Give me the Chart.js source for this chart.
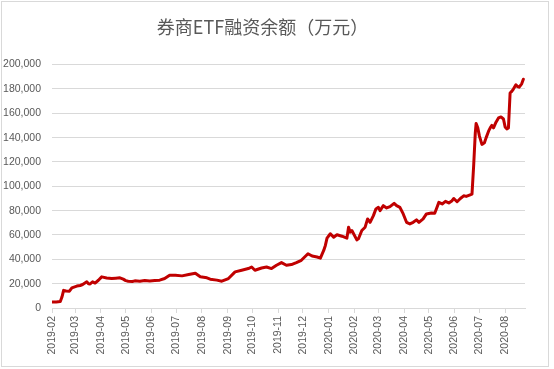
<!DOCTYPE html>
<html>
<head>
<meta charset="utf-8">
<script src="https://cdn.jsdelivr.net/npm/chart.js@4"></script>
<style>
  html, body { margin: 0; padding: 0; background: #ffffff; }
  #wrap { width: 554px; height: 369px; position: relative; }
</style>
</head>
<body>
<div id="wrap"><canvas id="c" width="554" height="369"></canvas></div>
<script>
const chartTitle = '券商ETF融资余额（万元）';

const monthLabels = ['2019-02','2019-03','2019-04','2019-05','2019-06','2019-07','2019-08','2019-09','2019-10','2019-11','2019-12','2020-01','2020-02','2020-03','2020-04','2020-05','2020-06','2020-07','2020-08'];

const dates = [
'2019-02-01','2019-02-06','2019-02-11','2019-02-13','2019-02-15','2019-02-18','2019-02-22','2019-02-25',
'2019-03-03','2019-03-07','2019-03-10','2019-03-15','2019-03-17','2019-03-19','2019-03-22','2019-03-25','2019-03-29',
'2019-04-02','2019-04-08','2019-04-14','2019-04-19','2019-04-24','2019-04-28',
'2019-05-01','2019-05-04','2019-05-09','2019-05-12','2019-05-18','2019-05-24','2019-05-30',
'2019-06-05','2019-06-11','2019-06-17','2019-06-23','2019-06-30',
'2019-07-08','2019-07-16','2019-07-24','2019-07-30',
'2019-08-07','2019-08-11','2019-08-19','2019-08-25',
'2019-09-02','2019-09-10','2019-09-18','2019-09-26','2019-09-30',
'2019-10-04','2019-10-12','2019-10-18','2019-10-24','2019-10-30',
'2019-11-05','2019-11-11','2019-11-17','2019-11-23','2019-11-29',
'2019-12-03','2019-12-07','2019-12-12','2019-12-18','2019-12-22','2019-12-26','2019-12-28','2019-12-30',
'2020-01-03','2020-01-07','2020-01-11','2020-01-17','2020-01-23','2020-01-25','2020-01-27','2020-01-29',
'2020-02-04','2020-02-06','2020-02-10','2020-02-14','2020-02-17','2020-02-20','2020-02-24','2020-02-27',
'2020-03-01','2020-03-03','2020-03-07','2020-03-11','2020-03-15','2020-03-20','2020-03-23','2020-03-27','2020-03-31',
'2020-04-04','2020-04-08','2020-04-12','2020-04-16','2020-04-19','2020-04-24','2020-04-28',
'2020-05-04','2020-05-08','2020-05-10','2020-05-13','2020-05-17','2020-05-21','2020-05-25','2020-05-29','2020-05-31',
'2020-06-04','2020-06-08','2020-06-12','2020-06-15','2020-06-19','2020-06-22','2020-06-24','2020-06-26','2020-06-27','2020-06-29',
'2020-07-01','2020-07-04','2020-07-07','2020-07-09','2020-07-12','2020-07-14','2020-07-16','2020-07-18','2020-07-21','2020-07-24','2020-07-27','2020-07-30',
'2020-08-01','2020-08-03','2020-08-05','2020-08-07','2020-08-09','2020-08-11','2020-08-14','2020-08-16','2020-08-18','2020-08-21','2020-08-23'
];

const balances = [
5000,5000,5300,9000,14500,14000,13800,16600,
18000,18500,19300,21500,20000,19800,21500,20500,22800,
25600,24700,24200,24500,24800,23700,
22500,22000,21800,22300,22000,22600,22200,
22600,22900,24200,26900,27000,
26400,27500,28500,25600,
24800,23700,22900,22000,
24200,29700,31000,32400,33700,
31000,32900,33700,32400,35100,
37300,35100,35700,37300,39200,
41900,44600,42700,41900,41000,47300,51400,57400,
61000,58200,60200,59000,57400,66400,62300,63700,
56000,56900,63700,66400,73200,70400,75900,81400,
82700,80000,84100,82200,83300,86000,84100,82700,77300,
70400,69100,70400,72400,70400,73200,77300,
78100,77800,81400,86800,85500,87600,86300,88200,90000,
87300,90000,92200,91700,92800,93600,116700,143900,151600,148000,
141200,134400,135800,139800,145300,148000,150000,148000,152700,156200,157000,155300,
148800,147200,148000,176600,178000,179900,183400,182000,181500,184200,188000
];

const yTicks = [0,20000,40000,60000,80000,100000,120000,140000,160000,180000,200000];

const DAY = 86400000;
const origin = Date.UTC(2019, 1, 1);
function dayOffset(s) {
  const p = s.split('-').map(Number);
  return Math.round((Date.UTC(p[0], p[1] - 1, p[2] || 1) - origin) / DAY);
}
const points = dates.map((d, i) => ({ x: dayOffset(d), y: balances[i] }));
const monthTickValues = monthLabels.map(m => dayOffset(m + '-01'));
const axisEnd = dayOffset('2020-08-25');

const borderPlugin = {
  id: 'chartBorder',
  afterDraw(chart) {
    const ctx = chart.ctx;
    ctx.save();
    ctx.strokeStyle = '#d9d9d9';
    ctx.lineWidth = 1;
    ctx.strokeRect(1.5, 1.5, 547, 365);
    ctx.restore();
  }
};

const labelFont = { family: '"Liberation Sans", Arial, sans-serif', size: 10.5 };

new Chart(document.getElementById('c'), {
  type: 'line',
  data: {
    datasets: [{
      data: points,
      borderColor: '#c00000',
      borderWidth: 3,
      pointRadius: 0,
      tension: 0,
      fill: false,
      borderJoinStyle: 'round',
      borderCapStyle: 'round'
    }]
  },
  options: {
    responsive: false,
    animation: false,
    devicePixelRatio: 1,
    layout: { padding: { left: 0, right: 29, top: 0, bottom: 0 } },
    plugins: {
      legend: { display: false },
      tooltip: { enabled: false },
      title: {
        display: true,
        text: chartTitle,
        color: '#595959',
        font: { family: '"Noto Sans CJK SC", sans-serif', size: 18, weight: 'normal' },
        padding: { top: 16, bottom: 27 }
      }
    },
    scales: {
      x: {
        type: 'linear',
        min: 0,
        max: axisEnd,
        afterBuildTicks(scale) {
          scale.ticks = monthTickValues.map(v => ({ value: v }));
        },
        afterFit(scale) { scale.height = 61; },
        ticks: {
          autoSkip: false,
          minRotation: 90,
          maxRotation: 90,
          padding: 3,
          color: '#595959',
          font: labelFont,
          callback(value, index) { return monthLabels[index]; }
        },
        grid: {
          drawOnChartArea: false,
          drawTicks: true,
          tickLength: 5,
          color: '#d9d9d9'
        },
        border: { display: true, color: '#d9d9d9' }
      },
      y: {
        min: 0,
        max: 200000,
        afterBuildTicks(scale) {
          scale.ticks = yTicks.map(v => ({ value: v }));
        },
        afterFit(scale) { scale.width = 52; },
        ticks: {
          padding: 11,
          color: '#595959',
          font: labelFont,
          callback(value) { return value.toLocaleString('en-US'); }
        },
        grid: { color: '#d9d9d9', drawTicks: false },
        border: { display: false }
      }
    }
  },
  plugins: [borderPlugin]
});
</script>
</body>
</html>
